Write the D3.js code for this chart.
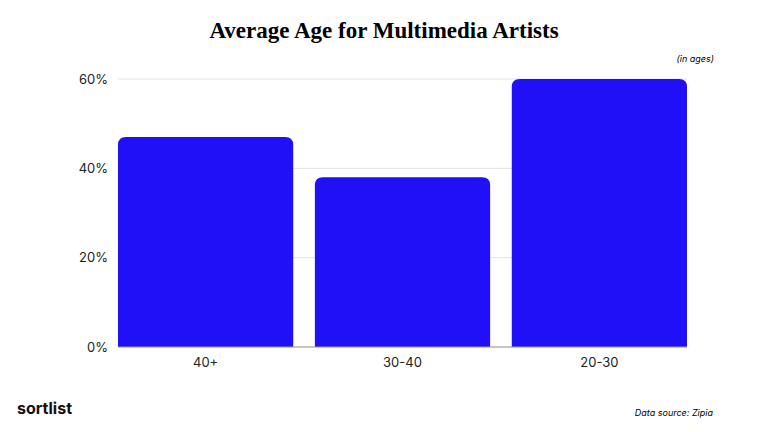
<!DOCTYPE html>
<html>
<head>
<meta charset="utf-8">
<script src="https://cdn.jsdelivr.net/npm/d3@7"></script>
<style>
  body { margin: 0; background: #fff; }
  text { font-family: Inter, "Noto Sans", sans-serif; }
</style>
</head>
<body>
<svg id="chart" width="768" height="432"></svg>
<script>
const categories = ["40+", "30-40", "20-30"];
const values = [47, 38, 60];
const yTicks = [0, 20, 40, 60];

const margin = { top: 79, right: 81, bottom: 85, left: 118 };
const width = 768 - margin.left - margin.right;
const height = 432 - margin.top - margin.bottom;

const svg = d3.select("#chart");

// Title
svg.append("text")
  .attr("x", 384).attr("y", 38)
  .attr("text-anchor", "middle")
  .style("font-family", "'Liberation Serif', 'DejaVu Serif', serif")
  .style("font-weight", "bold")
  .style("font-size", "23px")
  .text("Average Age for Multimedia Artists");

svg.append("text")
  .attr("x", 714).attr("y", 62)
  .attr("text-anchor", "end")
  .style("font-size", "9px")
  .style("font-style", "italic")
  .text("(in  ages)");

const g = svg.append("g").attr("transform", `translate(${margin.left},${margin.top})`);

const x = d3.scaleBand().domain(categories).range([0, width]).paddingInner(0.11).paddingOuter(0);
const y = d3.scaleLinear().domain([0, 60]).range([height, 0]);

// Grid
g.selectAll(".grid").data(yTicks).enter().append("line")
  .attr("x1", 0).attr("x2", width)
  .attr("y1", d => y(d)).attr("y2", d => y(d))
  .attr("stroke", "#e3e3e3");

// Y labels
g.selectAll(".ylab").data(yTicks).enter().append("text")
  .attr("x", -10).attr("y", d => y(d))
  .attr("dy", "0.35em")
  .attr("text-anchor", "end")
  .style("font-size", "13px")
  .attr("fill", "#222")
  .text(d => d + "%");

// Bars with rounded top corners
const r = 8;
g.selectAll(".bar").data(values).enter().append("path")
  .attr("fill", "#2010f5")
  .attr("d", (d, i) => {
    const x0 = x(categories[i]), x1 = x0 + x.bandwidth();
    const yt = y(d), yb = y(0);
    return `M${x0},${yb}V${yt + r}Q${x0},${yt} ${x0 + r},${yt}H${x1 - r}Q${x1},${yt} ${x1},${yt + r}V${yb}Z`;
  });

// Baseline
g.append("line").attr("x1", 0).attr("x2", width)
  .attr("y1", height).attr("y2", height).attr("stroke", "#999");

// X labels
g.selectAll(".xlab").data(categories).enter().append("text")
  .attr("x", d => x(d) + x.bandwidth() / 2)
  .attr("y", height + 20)
  .attr("text-anchor", "middle")
  .style("font-size", "13px")
  .attr("fill", "#222")
  .text(d => d);

// Footer
svg.append("text")
  .attr("x", 17).attr("y", 414)
  .style("font-size", "16px")
  .style("font-weight", "bold")
  .attr("fill", "#111")
  .text("sortlist");

svg.append("text")
  .attr("x", 713).attr("y", 416)
  .attr("text-anchor", "end")
  .style("font-size", "9px")
  .style("font-style", "italic")
  .text("Data source: Zipia");
</script>
</body>
</html>
